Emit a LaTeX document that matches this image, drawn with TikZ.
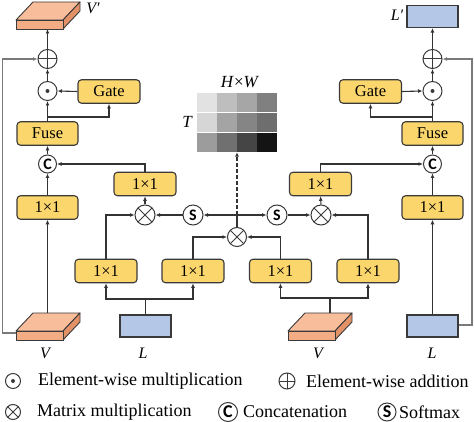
\documentclass[tikz,border=0pt]{standalone}
\usepackage{fontspec}
\setmainfont{Liberation Serif}
\newfontfamily\symsans{Carlito}
\usetikzlibrary{arrows.meta,calc}
\definecolor{boxyellow}{HTML}{FBD66D}
\definecolor{boxblue}{HTML}{B4C7E7}
\definecolor{edgec}{HTML}{3A3A3A}
\definecolor{linec}{HTML}{333333}
\definecolor{skipc}{HTML}{7A7A7A}
\definecolor{slabtop}{HTML}{F8BD9A}
\definecolor{slabfront}{HTML}{F4AC84}
\definecolor{slabside}{HTML}{E39268}
\tikzset{
  conv/.style={draw=edgec, fill=boxyellow, rounded corners=3.5pt, line width=1.1pt,
    minimum width=62pt, minimum height=23.5pt, inner sep=0pt, font=\fontsize{16.5}{18}\selectfont},
  bluebox/.style={draw=edgec, fill=boxblue, line width=1.1pt, minimum width=51pt,
    minimum height=22pt, inner sep=0pt},
  opc/.style={circle, draw=edgec, fill=white, line width=1pt, minimum size=19pt, inner sep=0pt},
  mulop/.style={opc, path picture={\draw[line width=1pt, edgec]
    (path picture bounding box.north west) -- (path picture bounding box.south east)
    (path picture bounding box.north east) -- (path picture bounding box.south west);}},
  addop/.style={opc, path picture={\draw[line width=1pt, edgec]
    (path picture bounding box.north) -- (path picture bounding box.south)
    (path picture bounding box.east) -- (path picture bounding box.west);}},
  dotop/.style={opc, path picture={\fill[edgec] (path picture bounding box.center) circle (2pt);}},
  letop/.style={opc, font=\symsans\bfseries\fontsize{16}{16}\selectfont},
  arr/.style={-{Latex[length=4.5pt,width=4pt]}, line width=1.1pt, draw=linec},
  ln/.style={line width=1.1pt, draw=linec},
  skip/.style={line width=1.1pt, draw=skipc},
  lbl/.style={font=\fontsize{16}{18}\selectfont\itshape, inner sep=0pt},
  legtxt/.style={font=\fontsize{18}{20}\selectfont, inner sep=0pt, anchor=west},
  slab/.pic={
    \filldraw[fill=slabtop, draw=edgec, line width=0.9pt, line join=round]
      (0,-9) -- (17,-27) -- (64,-27) -- (47,-9) -- cycle;
    \filldraw[fill=slabside, draw=edgec, line width=0.9pt, line join=round]
      (47,-9) -- (64,-27) -- (64,-18) -- (47,0) -- cycle;
    \filldraw[fill=slabfront, draw=edgec, line width=0.9pt, line join=round]
      (0,0) rectangle (47,-9);
  }
}
\begin{document}
\begin{tikzpicture}[x=1pt,y=-1pt]
\useasboundingbox (0,0) rectangle (474,422);

% slabs
\pic at (16,340) {slab};
\pic at (288,340) {slab};
\pic at (16,29) {slab};
\coordinate (vLtop) at (47.5,313);
\coordinate (vLside) at (16,333);
\coordinate (vRtop) at (330,313);
\coordinate (vPbot) at (47.5,29);

% matrix
\node (mat) [inner sep=0pt, minimum width=80pt, minimum height=59pt] at (237,122.5) {};
\foreach \r/\c/\col in {0/0/E2E2E2,0/1/BEBEBE,0/2/A6A6A6,0/3/808080,
                        1/0/D6D6D6,1/1/A4A4A4,1/2/858585,1/3/6E6E6E,
                        2/0/9C9C9C,2/1/707070,2/2/454545,2/3/141414}{
  \definecolor{cellc}{HTML}{\col}
  \fill[cellc] ({197+20*\c},{93+19.667*\r}) rectangle ({217+20*\c},{112.667+19.667*\r});
}
\draw[white, line width=1pt] (197,112.67) -- (277,112.67) (197,132.33) -- (277,132.33);
\node[lbl, font=\fontsize{17}{18}\selectfont] (hw) at (240,82) {\textit{H}\textup{×}\textit{W}};
\node[lbl, font=\fontsize{17}{18}\selectfont\itshape] (tt) at (187,122) {T};

% left column
\node[addop] (add1) at (47.5,59) {};
\node[dotop] (dot1) at (47.5,91) {};
\node[conv] (gate1) at (109,91.5) {Gate};
\node[conv, minimum width=61pt] (fuse1) at (47.5,133.5) {Fuse};
\node[letop, minimum size=18pt] (cat1) at (47.5,164) {C};
\node[conv, minimum width=61pt] (c1L) at (47.5,207.5) {1×1};
\node[conv] (cUL) at (145,184) {1×1};
\node[mulop, minimum size=20pt] (mulL) at (145,215) {};
\node[letop, minimum size=20pt] (softL) at (193,215) {S};
\node[conv] (cA) at (106,271) {1×1};
\node[conv] (cB) at (193,271) {1×1};
\node[mulop] (mulC) at (237,237) {};
\node[letop, minimum size=20pt] (softR) at (277,215) {S};
\node[mulop, minimum size=20pt] (mulR) at (321,215) {};
\node[conv] (cUR) at (320.5,184) {1×1};
\node[conv] (cC) at (280.5,271) {1×1};
\node[conv] (cD) at (368,271) {1×1};

% right column
\node[addop] (add2) at (432.5,59) {};
\node[dotop] (dot2) at (432.5,91) {};
\node[conv] (gate2) at (370.5,91.5) {Gate};
\node[conv, minimum width=61pt] (fuse2) at (432.5,133.5) {Fuse};
\node[letop, minimum size=18pt] (cat2) at (432.5,164) {C};
\node[conv, minimum width=61pt] (c1R) at (432.5,207.5) {1×1};

\node[bluebox] (Lp) at (432.5,16.5) {};
\node[bluebox] (LL) at (145.5,326) {};
\node[bluebox] (LR) at (432.5,326) {};

\coordinate (j) at (237,215);

% labels
\node[lbl] (labV1) at (45,353) {V};
\node[lbl] (labL1) at (143,353) {L};
\node[lbl] (labV2) at (318,353) {V};
\node[lbl] (labL2) at (432,353) {L};
\node[lbl] (labLp) at (397,15) {L′};
\node[lbl] (labVp) at (93,8) {V′};

% left connectors
\draw[arr] (vLtop) -- (c1L.south);
\draw[arr] (c1L.north) -- (cat1.south);
\draw[arr] (cUL.north) |- (cat1.east);
\draw[arr] (cat1.north) -- (fuse1.south);
\draw[arr] (fuse1.north) -- (dot1.south);
\coordinate (br1) at (47.5,117);
\draw[arr] (br1) -| (gate1.south);
\draw[arr] (gate1.west) -- (dot1.east);
\draw[arr] (dot1.north) -- (add1.south);
\draw[arr] (add1.north) -- (vPbot);
\draw[skip, -{Latex[length=4.5pt,width=4pt]}] (vLside) -- (2.5,333) -- (2.5,59) -- (add1.west);

% middle-left connectors
\coordinate (splitL) at (145.5,299);
\draw[ln] (LL.north) -- (splitL);
\draw[arr] (splitL) -| (cA.south);
\draw[arr] (splitL) -| (cB.south);
\draw[arr] (cA.north) |- (mulL.west);
\draw[arr] (cB.north) |- (mulC.west);
\draw[ln] (mulC.north) -- (j);
\draw[arr] (j) -- (softL.east);
\draw[arr] (j) -- (softR.west);
\draw[arr, dash pattern=on 3.5pt off 2.5pt] (j) -- (mat.south);
\draw[arr] (softL.west) -- (mulL.east);
\draw[arr] (mulL.north) -- (cUL.south);

% middle-right connectors
\coordinate (splitR) at (330,298);
\draw[ln] (vRtop) -- (splitR);
\draw[arr] (splitR) -| (cC.south);
\draw[arr] (splitR) -| (cD.south);
\draw[arr] (cC.north) |- (mulC.east);
\draw[arr] (cD.north) |- (mulR.east);
\draw[arr] (softR.east) -- (mulR.west);
\draw[arr] (mulR.north) -- (cUR.south);
\draw[arr] (cUR.north) |- (cat2.west);

% right column connectors
\draw[arr] (LR.north) -- (c1R.south);
\draw[arr] (c1R.north) -- (cat2.south);
\draw[arr] (cat2.north) -- (fuse2.south);
\draw[arr] (fuse2.north) -- (dot2.south);
\coordinate (br2) at (432.5,117);
\draw[arr] (br2) -| (gate2.south);
\draw[arr] (gate2.east) -- (dot2.west);
\draw[arr] (dot2.north) -- (add2.south);
\draw[arr] (add2.north) -- (Lp.south);
\draw[skip, -{Latex[length=4.5pt,width=4pt]}] (LR.east |- 0,325) -- (472,325) -- (472,59) -- (add2.east);

% legend
\node[dotop, minimum size=15pt] (lg1) at (13,381) {};
\node[legtxt] (lt1) at (38,381) {Element-wise multiplication};
\node[addop, minimum size=16pt] (lg2) at (287,381) {};
\node[legtxt] (lt2) at (306,381) {Element-wise addition};
\node[mulop, minimum size=15pt] (lg3) at (13,412) {};
\node[legtxt] (lt3) at (37,412) {Matrix multiplication};
\node[letop, minimum size=19pt, font=\symsans\bfseries\fontsize{18}{18}\selectfont] (lg4) at (228,412) {C};
\node[legtxt] (lt4) at (243,412) {Concatenation};
\node[letop, minimum size=18pt, font=\symsans\bfseries\fontsize{18}{18}\selectfont] (lg5) at (387,412) {S};
\node[legtxt] (lt5) at (399,412) {Softmax};
\end{tikzpicture}
\end{document}
